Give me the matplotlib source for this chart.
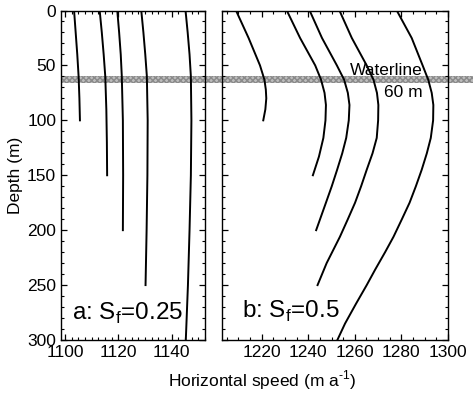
import matplotlib
matplotlib.use("Agg")
import matplotlib.pyplot as plt
from matplotlib.patches import Rectangle
from matplotlib.ticker import MultipleLocator
import matplotlib.transforms as mtransforms

plt.rcParams["font.family"] = ["Liberation Sans", "DejaVu Sans"]
plt.rcParams["mathtext.fontset"] = "custom"
plt.rcParams["mathtext.rm"] = "Liberation Sans"

# --- panel a : Sf = 0.25 ---
a_depth_1 = [0, 20, 40, 60, 80, 100]
a_speed_1 = [1103.4, 1104.0, 1104.6, 1105.1, 1105.4, 1105.6]
a_depth_2 = [0, 20, 40, 60, 90, 120, 150]
a_speed_2 = [1113.0, 1113.8, 1114.5, 1115.1, 1115.5, 1115.7, 1115.8]
a_depth_3 = [0, 20, 40, 60, 100, 150, 200]
a_speed_3 = [1119.6, 1120.3, 1120.9, 1121.3, 1121.7, 1121.8, 1121.7]
a_depth_4 = [0, 20, 40, 60, 100, 150, 200, 250]
a_speed_4 = [1128.6, 1129.4, 1130.1, 1130.7, 1131.0, 1130.9, 1130.6, 1130.2]
a_depth_5 = [0, 20, 40, 60, 100, 150, 200, 250, 300]
a_speed_5 = [1145.2, 1146.0, 1146.7, 1147.2, 1147.4, 1147.2, 1146.7, 1146.1, 1145.3]

# --- panel b : Sf = 0.5 ---
b_depth_1 = [0, 25, 50, 63, 72, 80, 90, 100]
b_speed_1 = [1209.0, 1214.4, 1219.3, 1221.2, 1221.8, 1222.0, 1221.6, 1220.7]
b_depth_2 = [0, 25, 50, 63, 75, 86, 100, 116, 133, 150]
b_speed_2 = [1230.8, 1236.5, 1243.0, 1245.5, 1247.0, 1247.6, 1247.4, 1246.5, 1244.6, 1242.0]
b_depth_3 = [0, 25, 50, 63, 75, 86, 100, 116, 130, 145, 160, 175, 200]
b_speed_3 = [1240.6, 1245.9, 1252.3, 1255.4, 1257.0, 1257.7, 1257.4, 1256.3, 1254.6,
             1252.4, 1250.1, 1247.6, 1243.4]
b_depth_4 = [0, 25, 50, 63, 75, 86, 100, 116, 130, 145, 160, 175, 190, 206, 230, 250]
b_speed_4 = [1253.4, 1258.7, 1265.1, 1268.0, 1269.5, 1270.1, 1270.0, 1269.4, 1267.6,
             1265.1, 1262.7, 1260.1, 1257.0, 1253.6, 1247.9, 1244.0]
b_depth_5 = [0, 25, 50, 63, 75, 86, 100, 116, 130, 145, 160, 175, 190, 206, 220, 236,
             250, 267, 285, 300]
b_speed_5 = [1278.0, 1284.4, 1289.1, 1291.5, 1293.0, 1293.7, 1293.6, 1292.6, 1290.9,
             1288.7, 1286.2, 1283.5, 1280.2, 1276.6, 1273.0, 1268.7, 1265.1, 1260.5,
             1255.8, 1252.5]

waterline_top = 60
waterline_bottom = 66

fig = plt.figure(figsize=(4.74, 3.95), dpi=100)
ax1 = fig.add_axes([0.1287, 0.1392, 0.3038, 0.8342])
ax2 = fig.add_axes([0.4684, 0.1392, 0.4768, 0.8342])

courbes_a = [(a_speed_1, a_depth_1), (a_speed_2, a_depth_2), (a_speed_3, a_depth_3),
             (a_speed_4, a_depth_4), (a_speed_5, a_depth_5)]
courbes_b = [(b_speed_1, b_depth_1), (b_speed_2, b_depth_2), (b_speed_3, b_depth_3),
             (b_speed_4, b_depth_4), (b_speed_5, b_depth_5)]

for x, y in courbes_a:
    ax1.plot(x, y, color="black", lw=1.4)
for x, y in courbes_b:
    ax2.plot(x, y, color="black", lw=1.4)

ax1.set_xlim(1098.5, 1152.5)
ax2.set_xlim(1203, 1300)

for ax in (ax1, ax2):
    ax.set_ylim(300, 0)
    ax.set_facecolor("none")
    ax.yaxis.set_major_locator(MultipleLocator(50))
    ax.yaxis.set_minor_locator(MultipleLocator(10))
    ax.xaxis.set_major_locator(MultipleLocator(20))
    ax.tick_params(which="both", direction="in", top=True, right=True, labelsize=12.5)
    ax.tick_params(which="major", length=4.5, width=0.9)
    ax.tick_params(which="minor", length=2.5, width=0.8)
    for s in ax.spines.values():
        s.set_linewidth(1.0)

ax1.xaxis.set_minor_locator(MultipleLocator(2.5))
ax2.xaxis.set_minor_locator(MultipleLocator(5))
ax2.set_yticklabels([])

ax1.set_ylabel("Depth (m)", fontsize=12.5, labelpad=3)
fig.text(0.553, 0.008, r"Horizontal speed (m a$^{\text{-}1}$)", fontsize=12.5,
         ha="center", va="bottom")

ax1.text(0.076, 0.06, r"a: S$_{\rm f}$=0.25", transform=ax1.transAxes, fontsize=17.5,
         ha="left", va="baseline")
ax2.text(0.087, 0.066, r"b: S$_{\rm f}$=0.5", transform=ax2.transAxes, fontsize=17.5,
         ha="left", va="baseline")

ax2.text(0.889, 0.804, "Waterline", transform=ax2.transAxes, fontsize=12.5, ha="right", va="baseline")
ax2.text(0.889, 0.737, "60 m", transform=ax2.transAxes, fontsize=12.5, ha="right", va="baseline")

# bande grise de la ligne d'eau, sur toute la largeur
trans = mtransforms.blended_transform_factory(fig.transFigure, ax1.transData)
bande = Rectangle((0.1287, waterline_top), 0.998 - 0.1287, waterline_bottom - waterline_top,
                  transform=trans, facecolor="#bdbdbd", edgecolor="#8a8a8a",
                  hatch="xxxxxx", lw=0, zorder=-1)
fig.patches.append(bande)

fig.savefig("out.png", dpi=100)
